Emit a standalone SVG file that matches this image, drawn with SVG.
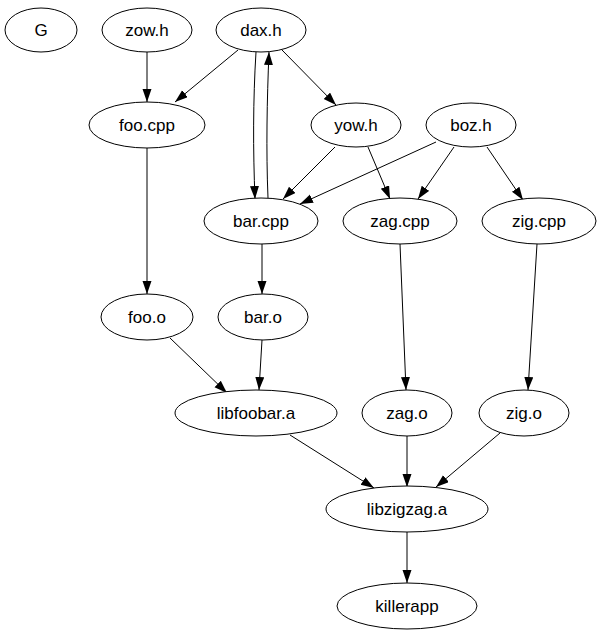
<svg xmlns="http://www.w3.org/2000/svg" width="601" height="635" viewBox="0 0 601 635">
<style>
.n ellipse{fill:#fff;stroke:#000;stroke-width:1}
.n text{font-family:"Liberation Sans","DejaVu Sans",sans-serif;font-size:17px;fill:#000;text-anchor:middle;dominant-baseline:central}
.e path{fill:none;stroke:#000;stroke-width:1;marker-end:url(#ah)}
</style>
<defs>
<marker id="ah" markerUnits="userSpaceOnUse" markerWidth="14" markerHeight="11" refX="13" refY="4.5" orient="auto">
<path d="M0,0 L13,4.5 L0,9 z" fill="#000"/>
</marker>
</defs>
<rect width="601" height="635" fill="#fff"/>
<g class="e" id="edges">
<path d="M147,52 L147,102"/>
<path d="M238,50 L175,102"/>
<path d="M282,50 L336,105"/>
<path d="M256,52 C253,100 253,150 255,199"/>
<path d="M268,198 C266,150 267,100 269,52"/>
<path d="M335,147 L283,199"/>
<path d="M368,147 L390,199"/>
<path d="M436,142 L300,204"/>
<path d="M454,147 L418,199"/>
<path d="M487,147 L523,200"/>
<path d="M147,148 L147,294"/>
<path d="M262,244 L262,294"/>
<path d="M400,244 L406,390"/>
<path d="M537,244 L528,390"/>
<path d="M170,338 L227,393"/>
<path d="M262,340 L259,390"/>
<path d="M290,435 L374,488"/>
<path d="M407,436 L407,487"/>
<path d="M500,433 L436,487"/>
<path d="M407,532 L407,583"/>
</g>
<g class="n" id="G"><ellipse cx="41" cy="30" rx="36" ry="22"/><text x="41" y="30">G</text></g>
<g class="n" id="zow_h"><ellipse cx="147" cy="30" rx="45" ry="22"/><text x="147" y="30">zow.h</text></g>
<g class="n" id="dax_h"><ellipse cx="261" cy="30" rx="45" ry="22"/><text x="261" y="30">dax.h</text></g>
<g class="n" id="foo_cpp"><ellipse cx="147" cy="125" rx="58" ry="23"/><text x="147" y="125">foo.cpp</text></g>
<g class="n" id="yow_h"><ellipse cx="356" cy="125" rx="45" ry="22"/><text x="356" y="125">yow.h</text></g>
<g class="n" id="boz_h"><ellipse cx="471" cy="125" rx="45" ry="22"/><text x="471" y="125">boz.h</text></g>
<g class="n" id="bar_cpp"><ellipse cx="261" cy="221" rx="57" ry="23"/><text x="261" y="221">bar.cpp</text></g>
<g class="n" id="zag_cpp"><ellipse cx="400" cy="221" rx="57" ry="23"/><text x="400" y="221">zag.cpp</text></g>
<g class="n" id="zig_cpp"><ellipse cx="539" cy="221" rx="57" ry="23"/><text x="539" y="221">zig.cpp</text></g>
<g class="n" id="foo_o"><ellipse cx="147" cy="317" rx="46" ry="23"/><text x="147" y="317">foo.o</text></g>
<g class="n" id="bar_o"><ellipse cx="263" cy="317" rx="45" ry="23"/><text x="263" y="317">bar.o</text></g>
<g class="n" id="libfoobar_a"><ellipse cx="256" cy="413" rx="81" ry="23"/><text x="256" y="413">libfoobar.a</text></g>
<g class="n" id="zag_o"><ellipse cx="407" cy="413" rx="45" ry="23"/><text x="407" y="413">zag.o</text></g>
<g class="n" id="zig_o"><ellipse cx="524" cy="413" rx="45" ry="23"/><text x="524" y="413">zig.o</text></g>
<g class="n" id="libzigzag_a"><ellipse cx="407" cy="509" rx="81" ry="23"/><text x="407" y="509">libzigzag.a</text></g>
<g class="n" id="killerapp"><ellipse cx="407" cy="606" rx="70" ry="23"/><text x="407" y="606">killerapp</text></g>
</svg>
